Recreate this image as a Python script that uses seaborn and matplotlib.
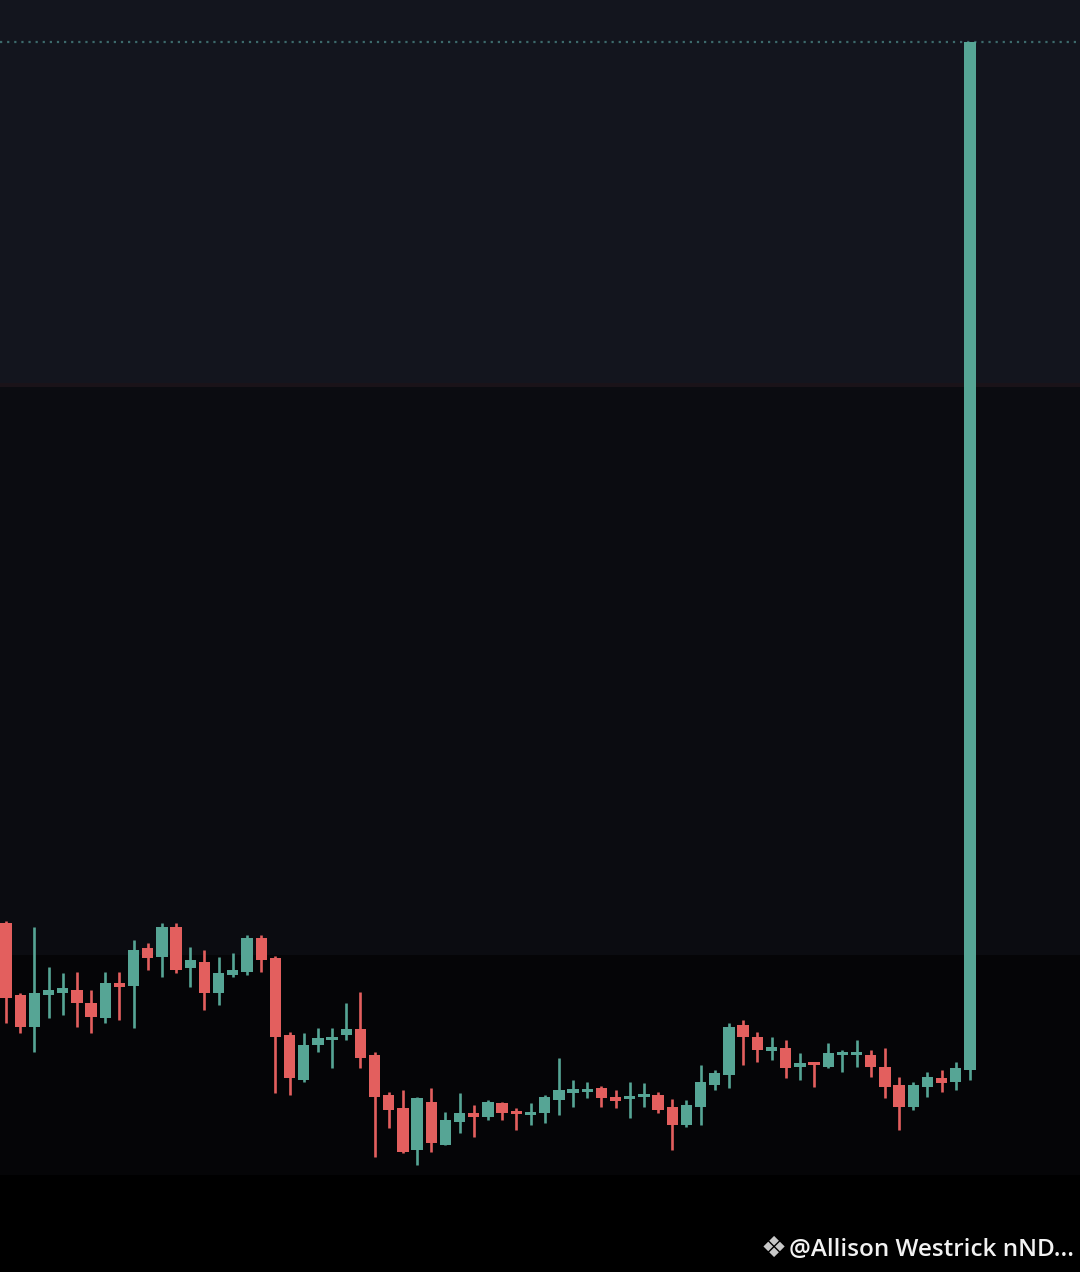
import matplotlib
matplotlib.use("Agg")
import matplotlib.pyplot as plt
import seaborn as sns
import numpy as np
import pandas as pd

# ---- data (price units, arbitrary scale) ----
opens = [34.9, 27.7, 24.5, 27.7, 27.9, 28.2, 26.9, 25.4, 28.9, 28.6,
         32.4, 31.5, 34.5, 30.4, 31.0, 27.9, 29.7, 30.0, 33.4, 31.4,
         23.7, 19.2, 22.7, 23.2, 23.7, 24.3, 21.7, 17.7, 16.4, 12.2,
         17.0, 12.7, 15.0, 15.9, 15.5, 16.9, 16.0, 15.7, 15.9, 17.2,
         17.9, 18.0, 18.4, 17.5, 17.3, 17.5, 17.7, 16.5, 14.7, 16.5,
         18.7, 19.7, 24.7, 23.5, 22.1, 22.4, 20.5, 21.0, 20.5, 21.7,
         21.7, 21.7, 20.5, 18.7, 16.5, 18.5, 19.4, 19.0, 20.2]
highs = [35.1, 27.9, 34.5, 30.5, 29.9, 30.0, 28.2, 30.0, 30.0, 33.2,
         32.9, 34.9, 34.9, 32.5, 32.2, 31.5, 31.9, 33.7, 33.7, 31.6,
         24.0, 23.9, 24.4, 24.4, 26.9, 28.0, 22.0, 18.0, 18.2, 17.5,
         18.4, 16.0, 17.9, 16.7, 17.2, 17.0, 16.4, 16.9, 17.7, 21.4,
         19.2, 19.0, 18.6, 18.2, 19.0, 18.9, 18.0, 17.3, 17.2, 20.7,
         20.2, 24.9, 25.2, 24.0, 23.5, 23.2, 21.9, 21.0, 22.9, 22.2,
         23.2, 22.2, 22.4, 19.5, 19.0, 20.0, 20.2, 21.0, 123.0]
lows = [24.9, 23.9, 22.0, 25.4, 25.7, 24.5, 23.9, 24.9, 25.2, 24.4,
        30.2, 29.5, 29.9, 28.5, 26.2, 26.7, 29.5, 29.7, 30.0, 17.9,
        17.7, 19.0, 22.0, 20.4, 23.2, 20.4, 11.5, 14.4, 11.9, 10.7,
        12.0, 12.7, 13.9, 13.5, 15.2, 15.2, 14.2, 14.7, 14.9, 15.7,
        16.5, 17.4, 16.5, 16.4, 15.4, 16.5, 15.9, 12.2, 14.5, 14.7,
        18.2, 18.4, 20.7, 21.0, 21.2, 19.4, 19.2, 18.5, 20.4, 20.0,
        20.5, 19.5, 17.4, 14.2, 16.2, 17.5, 18.0, 18.2, 19.2]
closes = [27.4, 24.5, 27.9, 28.2, 28.4, 26.9, 25.5, 28.9, 28.5, 32.2,
          31.4, 34.5, 30.2, 31.2, 27.9, 29.9, 30.2, 33.4, 31.2, 23.5,
          19.4, 22.7, 23.4, 23.5, 24.3, 21.4, 17.5, 16.2, 12.0, 17.4,
          12.9, 15.2, 15.9, 15.5, 17.0, 15.9, 15.8, 16.0, 17.5, 18.2,
          18.3, 18.3, 17.4, 17.1, 17.6, 17.8, 16.2, 14.7, 16.7, 19.0,
          19.9, 24.5, 23.5, 22.2, 22.5, 20.4, 20.9, 20.7, 21.9, 22.0,
          22.0, 20.5, 18.5, 16.5, 18.7, 19.5, 18.9, 20.4, 123.0]
ref_level = 123.0
watermark = "@Allison Westrick nND..."

df = pd.DataFrame({"open": opens, "high": highs, "low": lows, "close": closes})
df["idx"] = np.arange(len(df))
df["up"] = df["close"] >= df["open"]

GREEN = "#56a595"
RED = "#e35f5e"

sns.set_theme(style="dark", rc={"axes.facecolor": "#0c0d13", "figure.facecolor": "#000000"})
plt.rcParams['font.family'] = ['Open Sans', 'DejaVu Sans']

fig = plt.figure(figsize=(10.8, 12.72), dpi=100)
ax = fig.add_axes([0, 0, 1, 1])
ax.set_xlim(-0.423, 75.76)
ax.set_ylim(0, 127.2)

# background bands
ax.axhspan(88.9, 127.2, color="#13151e", zorder=0, lw=0)
ax.axhspan(88.5, 88.9, color="#1a1319", zorder=0, lw=0)
ax.axhspan(31.7, 88.5, color="#0b0c11", zorder=0, lw=0)
ax.axhspan(9.7, 31.7, color="#050507", zorder=0, lw=0)
ax.axhspan(0, 9.7, color="#000000", zorder=0, lw=0)

# dotted reference line
ax.axhline(ref_level, color="#3d6a6c", linestyle=(0, (1, 2.2)), linewidth=1.6, zorder=1)

colors = np.where(df["up"], GREEN, RED)
# wicks
ax.vlines(df["idx"], df["low"], df["high"], colors=colors, linewidth=1.9, zorder=2)
# bodies
body_bottom = np.minimum(df["open"], df["close"])
body_h = np.maximum(np.abs(df["close"] - df["open"]), 0.35)
ax.bar(df["idx"], body_h, bottom=body_bottom, width=0.8, color=colors, linewidth=0, zorder=3)

ax.set_xticks([])
ax.set_yticks([])
for s in ax.spines.values():
    s.set_visible(False)
ax.grid(False)

# watermark
fig.text(0.716, 0.0075, "\u2756", color="#c8c8c8", fontsize=21, family=["DejaVu Sans"],
         ha="center", va="bottom")
fig.text(0.731, 0.0075, watermark, color="#f2f2f2", fontsize=17.5, weight="semibold",
         ha="left", va="bottom")

fig.savefig("out.png", dpi=100, facecolor=fig.get_facecolor())
